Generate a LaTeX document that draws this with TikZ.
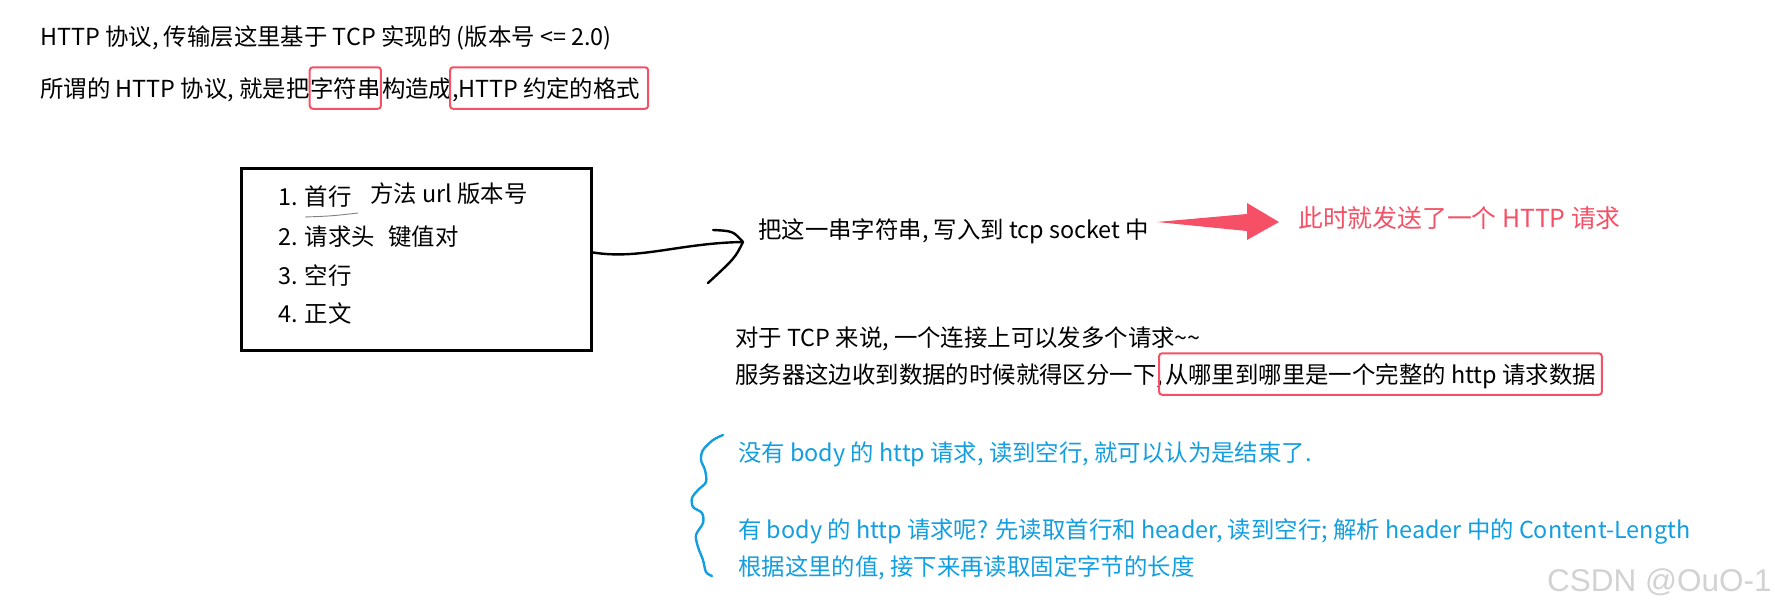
\documentclass[tikz,border=0pt]{standalone}
\usepackage{fontspec}
\setmainfont{Noto Sans CJK SC}
\newfontfamily\wmfont{Liberation Sans}
\usetikzlibrary{positioning,calc}
\definecolor{markred}{RGB}{245,80,102}
\definecolor{noteblue}{RGB}{18,158,224}

\begin{document}
\begin{tikzpicture}[x=1pt, y=-1pt,
  txt/.style={anchor=west, inner sep=0pt, text height=20pt, text depth=1.5pt,
    font=\fontsize{23.4}{27}\selectfont},
  redbox/.style={draw=markred, rounded corners=3pt, line width=2pt, inner ysep=10pt},
  note/.style={txt, text=noteblue},
  hand/.style={line width=2.4pt, line cap=round, line join=round}]
\useasboundingbox (0,0) rectangle (1775,608);

\node[txt] (l1) at (40,36) {HTTP 协议, 传输层这里基于 TCP 实现的 (版本号 <= 2.0)};
\node[txt] (l2a) at (40,88) {所谓的 HTTP 协议, 就是把};
\node[txt, redbox, inner xsep=0.5pt, base right=-1pt of l2a] (l2b) {字符串};
\node[txt, base right=0pt of l2b] (l2c) {构造成,};
\node[txt, redbox, inner xsep=8pt, base right=-10pt of l2c] (l2d) {HTTP 约定的格式};

\node[draw, line width=3.3pt, minimum width=350pt, minimum height=182pt, inner sep=0pt]
  (msg) at (416.5,259.5) {};
\node[txt] (i1) at (278,196) {1. 首行};
\node[txt] (i1n) at (370,193) {方法 url 版本号};
\node[txt] (i2) at (278,236) {2. 请求头};
\node[txt] (i2n) at (388,236) {键值对};
\node[txt] (i3) at (278,275) {3. 空行};
\node[txt] (i4) at (278,313) {4. 正文};
\draw[gray, line width=0.9pt] (305,217) .. controls (332,216) .. (358,213);

\coordinate (htip) at (743,242);
\draw[hand] ([yshift=7pt]msg.east) .. controls (640,260) and (680,243) .. (htip);
\draw[hand] (713,230) .. controls (733,231) .. (htip) .. controls (735,258) .. (708,283);

\node[txt] (write) at (758,229) {把这一串字符串, 写入到 tcp socket 中};
\node[txt, text=markred, font=\fontsize{24.8}{28}\selectfont] (sent) at (1298,218) {此时就发送了一个 HTTP 请求};
\coordinate (ptail) at (1157,222);
\coordinate (ptip) at (1279,222);
\fill[markred] (ptail) -- (1247,214) -- (1247,203) -- (ptip) -- (1247,240) -- (1247,231) -- cycle;

\node[txt] (t1) at (735,337) {对于 TCP 来说, 一个连接上可以发多个请求\textasciitilde\textasciitilde};
\node[txt] (t2) at (735,374) {服务器这边收到数据的时候就得区分一下,};
\node[txt, redbox, inner xsep=6pt, base right=-5pt of t2] (t3) {从哪里到哪里是一个完整的 http 请求数据};

\draw[noteblue, line width=2.4pt, line cap=round, line join=round] plot[smooth] coordinates
  {(723,435) (713,440) (703,450) (701,460) (705,470) (706,482) (698,490) (692,498)
   (693,507) (702,513) (703,523) (696,535) (698,547) (703,560) (706,572) (712,576)};
\node[note] (n1) at (738,452) {没有 body 的 http 请求, 读到空行, 就可以认为是结束了.};
\node[note] (n2) at (738,529) {有 body 的 http 请求呢? 先读取首行和 header, 读到空行; 解析 header 中的 Content-Length};
\node[note] (n3) at (738,566) {根据这里的值, 接下来再读取固定字节的长度};

\node[anchor=west, inner sep=0pt, text=gray!35, font=\wmfont\fontsize{31.5}{34}\selectfont]
  (mark) at (1547,582) {CSDN @OuO-1};
\end{tikzpicture}
\end{document}
